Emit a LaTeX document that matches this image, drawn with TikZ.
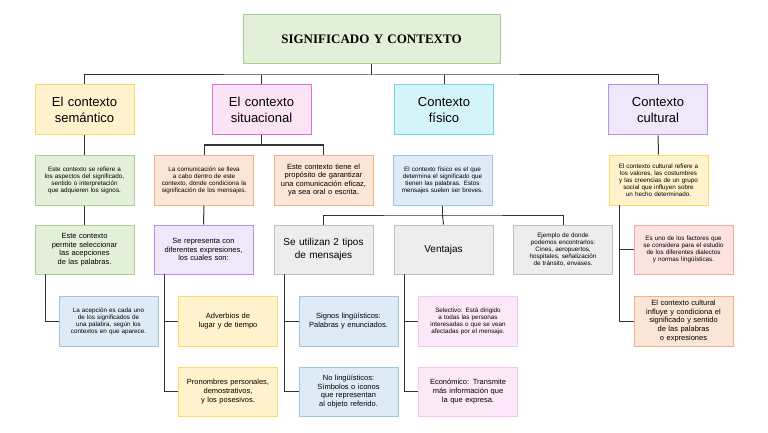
\documentclass[tikz,border=0pt]{standalone}
\usepackage{fontspec}
\setmainfont{Liberation Sans}
\newfontfamily\titlefont{Liberation Serif}
\definecolor{gF}{HTML}{E2F0D9}\definecolor{gB}{HTML}{A9D18E}
\definecolor{yF}{HTML}{FFF2CC}\definecolor{yB}{HTML}{FFD966}
\definecolor{pF}{HTML}{FCE4F6}\definecolor{pB}{HTML}{E070D0}
\definecolor{bF}{HTML}{DEEBF7}\definecolor{bB}{HTML}{9DC3E6}
\definecolor{cF}{HTML}{D4F4FA}\definecolor{cB}{HTML}{70D8E8}
\definecolor{lF}{HTML}{EEE8FA}\definecolor{lB}{HTML}{B890E8}
\definecolor{sF}{HTML}{FBE5D6}\definecolor{sB}{HTML}{F4B183}
\definecolor{rF}{HTML}{FDE3E0}\definecolor{rB}{HTML}{F5A8A0}
\definecolor{aF}{HTML}{EDEDED}\definecolor{aB}{HTML}{BFBFBF}
\definecolor{mF}{HTML}{FDE8FA}\definecolor{mB}{HTML}{F4C8F0}
\definecolor{ln}{HTML}{333333}
\tikzset{
 bx/.style={draw=#1B,fill=#1F,line width=1pt,align=center,minimum width=99pt,text width=86pt,inner sep=2pt,font=\fontsize{6.3}{7}\selectfont,execute at begin node={\hyphenpenalty=10000\exhyphenpenalty=10000\relax}},
 hd/.style={bx=#1,minimum height=50pt,font=\fontsize{13}{16}\selectfont},
 md/.style={font=\fontsize{7.5}{8.6}\selectfont},
 lg/.style={font=\fontsize{10}{13}\selectfont},
 cn/.style={draw=ln,line width=1pt},
}
\begin{document}
\begin{tikzpicture}[x=1pt,y=-1pt]
\useasboundingbox (0,0) rectangle (768,433);
\node[bx=g,minimum width=257pt,text width=250pt,minimum height=49pt,font=\titlefont\bfseries\fontsize{13}{15}\selectfont] (t) at (371.5,39.5) {SIGNIFICADO Y CONTEXTO};
\node[hd=y] (h1) at (84.5,110) {El contexto\\semántico};
\node[hd=p] (h2) at (261.5,110) {El contexto\\situacional};
\node[hd=c] (h3) at (444,110) {Contexto\\físico};
\node[hd=l] (h4) at (658,110) {Contexto\\cultural};
\draw[cn] (t.south) -- (371.5,75) coordinate (j);
\draw[cn] (h1.north) |- (j) -| (h4.north);
\draw[cn] (h2.north) -- (261.5,75);
\draw[cn] (h3.north) -- (444,75);
% semantico
\node[bx=g,minimum height=50pt] (s1) at (84.5,180) {Este contexto se refiere a los aspectos del significado, sentido o interpretación que adquieren los signos.};
\node[bx=g,md,minimum height=49pt] (s2) at (84.5,249.5) {Este contexto permite seleccionar las acepciones de las palabras.};
\node[bx=b,minimum height=50pt] (s3) at (108.5,321) {La acepción es cada uno de los significados de una palabra, según los contextos en que aparece.};
\draw[cn] (h1) -- (s1); \draw[cn] (s1) -- (s2);
\draw[cn] (45,274) |- (s3.west);
% situacional
\node[bx=s,minimum height=50pt] (p1) at (204,180) {La comunicación se lleva a cabo dentro de este contexto, donde condiciona la significación de los mensajes.};
\node[bx=s,md,minimum height=50pt] (p2) at (323.5,180) {Este contexto tiene el propósito de garantizar una comunicación eficaz, ya sea oral o escrita.};
\node[bx=l,md,minimum height=49pt] (p3) at (203.5,249.5) {Se representa con diferentes expresiones, los cuales son:};
\node[bx=y,md,minimum height=50pt] (p4) at (228,321) {Adverbios de lugar y de tiempo};
\node[bx=y,md,minimum height=49pt] (p5) at (228,391.5) {Pronombres personales, demostrativos, y los posesivos.};
\draw[cn] (h2.south) -- (261.5,145) coordinate (k);
\draw[cn] (p1.north) |- (k) -| (p2.north);
\draw[cn] (p1) -- (p3);
\draw[cn] (164,274) |- (p5.west); \draw[cn] (164,321) -- (p4.west);
% fisico
\node[bx=b,minimum height=50pt] (f1) at (442.5,180) {El contexto físico es el que determina el significado que tienen las palabras. Estos mensajes suelen ser breves.};
\node[bx=a,lg,minimum height=49pt] (f2) at (323.5,249.5) {Se utilizan 2 tipos\\de mensajes};
\node[bx=a,lg,minimum height=49pt] (f3) at (443.5,249.5) {Ventajas};
\node[bx=a,minimum height=49pt] (f4) at (563,249.5) {Ejemplo de donde podemos encontrarlos: Cines, aeropuertos, hospitales, señalización de tránsito, envases.};
\draw[cn] (f1.south) -- (442.5,215) coordinate (m);
\draw[cn] (f2.north) |- (m) -| (f4.north);
\draw[cn] (m) -- (f3.north);
\node[bx=b,md,minimum height=50pt] (f5) at (348.5,321) {Signos lingüísticos: Palabras y enunciados.};
\node[bx=b,md,minimum height=49pt] (f6) at (348.5,391.5) {No lingüísticos: Símbolos o iconos que representan al objeto referido.};
\draw[cn] (284,274) |- (f6.west); \draw[cn] (284,321) -- (f5.west);
\node[bx=m,minimum height=50pt] (f7) at (468,321) {Selectivo: Está dirigido a todas las personas interesadas o que se vean afectadas por el mensaje.};
\node[bx=m,md,minimum height=49pt] (f8) at (468,391.5) {Económico: Transmite más información que la que expresa.};
\draw[cn] (404,274) |- (f8.west); \draw[cn] (404,321) -- (f7.west);
% cultural
\node[bx=y,minimum height=50pt] (c1) at (658.5,180) {El contexto cultural refiere a los valores, las costumbres y las creencias de un grupo social que influyen sobre un hecho determinado.};
\node[bx=r,minimum height=49pt] (c2) at (683.5,249.5) {Es uno de los factores que se considera para el estudio de los diferentes dialectos y normas lingüísticas.};
\node[bx=s,md,minimum height=50pt] (c3) at (683.5,321) {El contexto cultural influye y condiciona el significado y sentido de las palabras o expresiones};
\draw[cn] (h4) -- (c1);
\draw[cn] (619,205) |- (c3.west); \draw[cn] (619,249.5) -- (c2.west);
\end{tikzpicture}
\end{document}
